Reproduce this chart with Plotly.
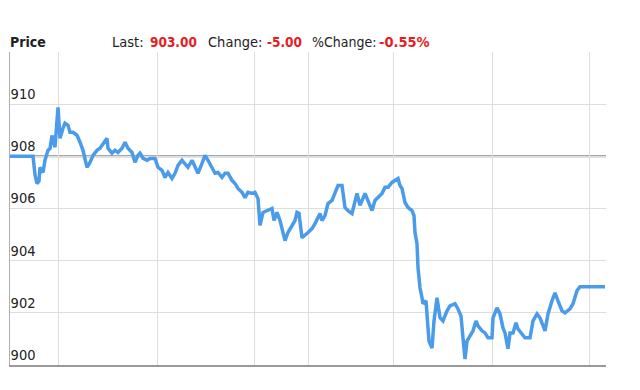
import plotly.graph_objects as go

# ---- data (minutes from session start, price) ----
times = [0, 23, 25, 27, 29, 30, 33, 35, 38, 40, 42, 45, 48, 50, 53, 55, 58, 60, 63, 67,
         70, 73, 77, 80, 83, 87, 90, 93, 97, 98, 102, 105, 108, 112, 115, 118, 122, 125, 128, 130,
         133, 137, 140, 145, 148, 152, 155, 158, 162, 165, 168, 172, 175, 178, 182, 185, 188, 192, 195, 198,
         202, 205, 208, 212, 215, 218, 222, 225, 228, 232, 235, 238, 242, 245, 248, 250, 253, 258, 262, 264,
         267, 270, 273, 275, 278, 282, 285, 287, 289, 292, 295, 298, 302, 305, 310, 312, 315, 318, 322, 325,
         328, 332, 335, 338, 342, 347, 350, 355, 358, 362, 365, 368, 372, 375, 378, 382, 385, 388, 390, 392,
         395, 398, 402, 404, 405, 407, 408, 410, 412, 413, 416, 417, 419, 422, 424, 427, 430, 433, 437, 440,
         445, 448, 451, 453, 455, 457, 460, 463, 466, 468, 472, 475, 478, 482, 483, 487, 490, 493, 495, 498,
         500, 503, 506, 508, 512, 515, 520, 523, 527, 530, 535, 538, 542, 545, 548, 552, 555, 560, 563, 567,
         570, 595]
prices = [908.0, 908.0, 907.3, 906.95, 907.05, 907.58, 907.38, 907.85, 908.23, 908.3, 908.8, 908.35, 909.88, 908.69, 909.08, 909.27, 909.19, 908.92, 908.92, 908.81,
          908.54, 908.23, 907.58, 907.77, 908.04, 908.23, 908.31, 908.5, 908.69, 908.31, 908.12, 908.23, 908.15, 908.31, 908.54, 908.31, 908.15, 907.77, 908.04, 908.12,
          907.92, 907.85, 907.92, 907.92, 907.58, 907.46, 907.19, 907.38, 907.15, 907.35, 907.65, 907.85, 907.73, 907.58, 907.85, 907.58, 907.35, 907.73, 908.04, 907.85,
          907.54, 907.35, 907.38, 907.19, 907.35, 907.35, 907.08, 906.96, 906.77, 906.62, 906.42, 906.62, 906.58, 906.62, 906.38, 905.35, 905.85, 905.92, 906.0, 905.54,
          905.85, 905.54, 905.04, 904.77, 905.08, 905.35, 905.54, 905.85, 905.81, 904.88, 904.96, 905.08, 905.23, 905.42, 905.81, 905.54, 905.73, 906.19, 906.31, 906.58,
          906.88, 906.88, 906.04, 905.92, 905.81, 906.58, 906.12, 906.58, 906.31, 905.92, 906.31, 906.42, 906.58, 906.81, 906.81, 907.0, 907.08, 907.15, 906.88, 906.77,
          906.23, 906.04, 905.92, 905.73, 905.08, 904.65, 903.73, 902.96, 902.58, 902.35, 902.46, 901.96, 900.92, 900.65, 901.69, 902.58, 901.81, 901.69, 902.08, 902.27,
          902.35, 902.15, 901.88, 901.04, 900.23, 900.92, 901.12, 901.31, 901.69, 901.5, 901.31, 901.23, 901.04, 901.04, 901.81, 902.19, 901.96, 901.42, 901.23, 900.62,
          901.23, 901.23, 901.62, 901.38, 901.19, 901.04, 901.04, 901.69, 901.96, 901.81, 901.31, 901.96, 902.46, 902.77, 902.46, 902.08, 902.0, 902.15, 902.35, 902.85,
          903.0, 903.0]

prev_close = 908.0
last_price = 903.00
change = -5.00
pct_change = -0.55

y_ticks = [900, 902, 904, 906, 908, 910, 912]
y_tick_labels = ["900", "902", "904", "906", "908", "910", ""]
x_grid_times = [48, 147, 244, 298, 383, 482, 579]

FONT = "DejaVu Sans Condensed"
RED = "#e31e24"
LINE = "#4a9be9"

fig = go.Figure()
fig.add_trace(go.Scatter(x=times, y=prices, mode="lines",
                         line=dict(color=LINE, width=3.5), hoverinfo="skip",
                         showlegend=False))

fig.add_shape(type="line", xref="paper", yref="y", x0=0, x1=1,
              y0=prev_close, y1=prev_close, line=dict(color="#8a8a8a", width=2),
              layer="below")

W, H = 640, 390
ml, mr, mt, mb = 10, 34, 52, 25
pw = W - ml - mr

def px_to_paper(px):
    return (px - ml) / pw

fig.update_layout(
    width=W, height=H,
    margin=dict(l=ml, r=mr, t=mt, b=mb),
    paper_bgcolor="white", plot_bgcolor="white",
    font=dict(family=FONT, size=13, color="#222"),
    xaxis=dict(range=[0, 596], tickvals=x_grid_times, showticklabels=False,
               showgrid=True, gridcolor="#dedede", gridwidth=1, zeroline=False,
               showline=True, linecolor="#9a9a9a", linewidth=2, ticks="",
               fixedrange=True),
    yaxis=dict(range=[900, 912], tickvals=y_ticks, ticktext=y_tick_labels,
               ticklabelposition="inside top", showgrid=True, gridcolor="#dedede",
               gridwidth=1, zeroline=False, showline=True, linecolor="#b0b0b0",
               linewidth=1, ticks="", tickfont=dict(family=FONT, size=14.5, color="#222"),
               fixedrange=True),
    showlegend=False,
)

header_y = 1 + (mt - 42) / (H - mt - mb)

def ann(px, text, color="#222", bold=False, size=13.5):
    t = f"<b>{text}</b>" if bold else text
    fig.add_annotation(x=px_to_paper(px), y=header_y, xref="paper", yref="paper",
                       text=t, showarrow=False, xanchor="left", yanchor="middle",
                       font=dict(family=FONT, size=size, color=color))

ann(8, "Price", bold=True, size=14)
ann(110, "Last:", size=14.5)
ann(148, f"{last_price:.2f}", color=RED, bold=True, size=13.5)
ann(206, "Change:", size=14.5)
ann(265, f"{change:.2f}", color=RED, bold=True, size=13.5)
ann(310, "%Change:", size=14)
ann(377, f"{pct_change:.2f}%", color=RED, bold=True, size=14.5)

fig.write_html("out.html")
